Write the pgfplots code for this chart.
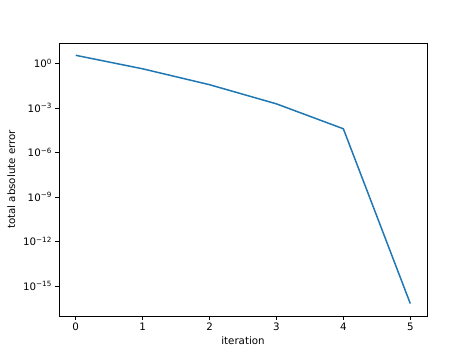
\documentclass[border=0pt]{standalone}
\usepackage{fontspec}
\setmainfont{DejaVu Sans}
\usepackage{pgfplots}
\pgfplotsset{compat=1.18}
\definecolor{mplblue}{HTML}{1F77B4}
\begin{document}
\fontsize{10}{12}\selectfont
\begin{tikzpicture}
\useasboundingbox (-59bp,-39bp) rectangle (415bp,316bp);
\begin{axis}[
  at={(0,0)}, anchor=south west,
  scale only axis,
  width=368bp, height=273bp,
  ymode=log, log basis y=10,
  xmin=-0.25, xmax=5.25,
  ymin=9.5e-18, ymax=23.4,
  xtick={0,1,2,3,4,5},
  xticklabels={0,1,2,3,4,5},
  ytick={1,1e-3,1e-6,1e-9,1e-12,1e-15},
  yticklabels={10\textsuperscript{0},10\textsuperscript{−3},10\textsuperscript{−6},10\textsuperscript{−9},10\textsuperscript{−12},10\textsuperscript{−15}},
  minor ytick={},
  yminorticks=false,
  tick align=outside,
  tick pos=left,
  major tick length=3.6bp,
  tick style={black, line width=0.6pt},
  axis line style={line width=0.6pt},
  ticklabel style={font=\fontsize{10.3}{12}\selectfont},
  xlabel={iteration},
  ylabel={total absolute error},
  label style={font=\fontsize{10.3}{12}\selectfont},
  xlabel style={yshift=1bp},
  ylabel style={yshift=1bp},
]
\addplot[mplblue, line width=1.5bp] coordinates {
(0,3.47) (1,0.427) (2,0.0363) (3,1.86e-3) (4,3.89e-5) (5,6.6e-17)
};
\end{axis}
\end{tikzpicture}
\end{document}
